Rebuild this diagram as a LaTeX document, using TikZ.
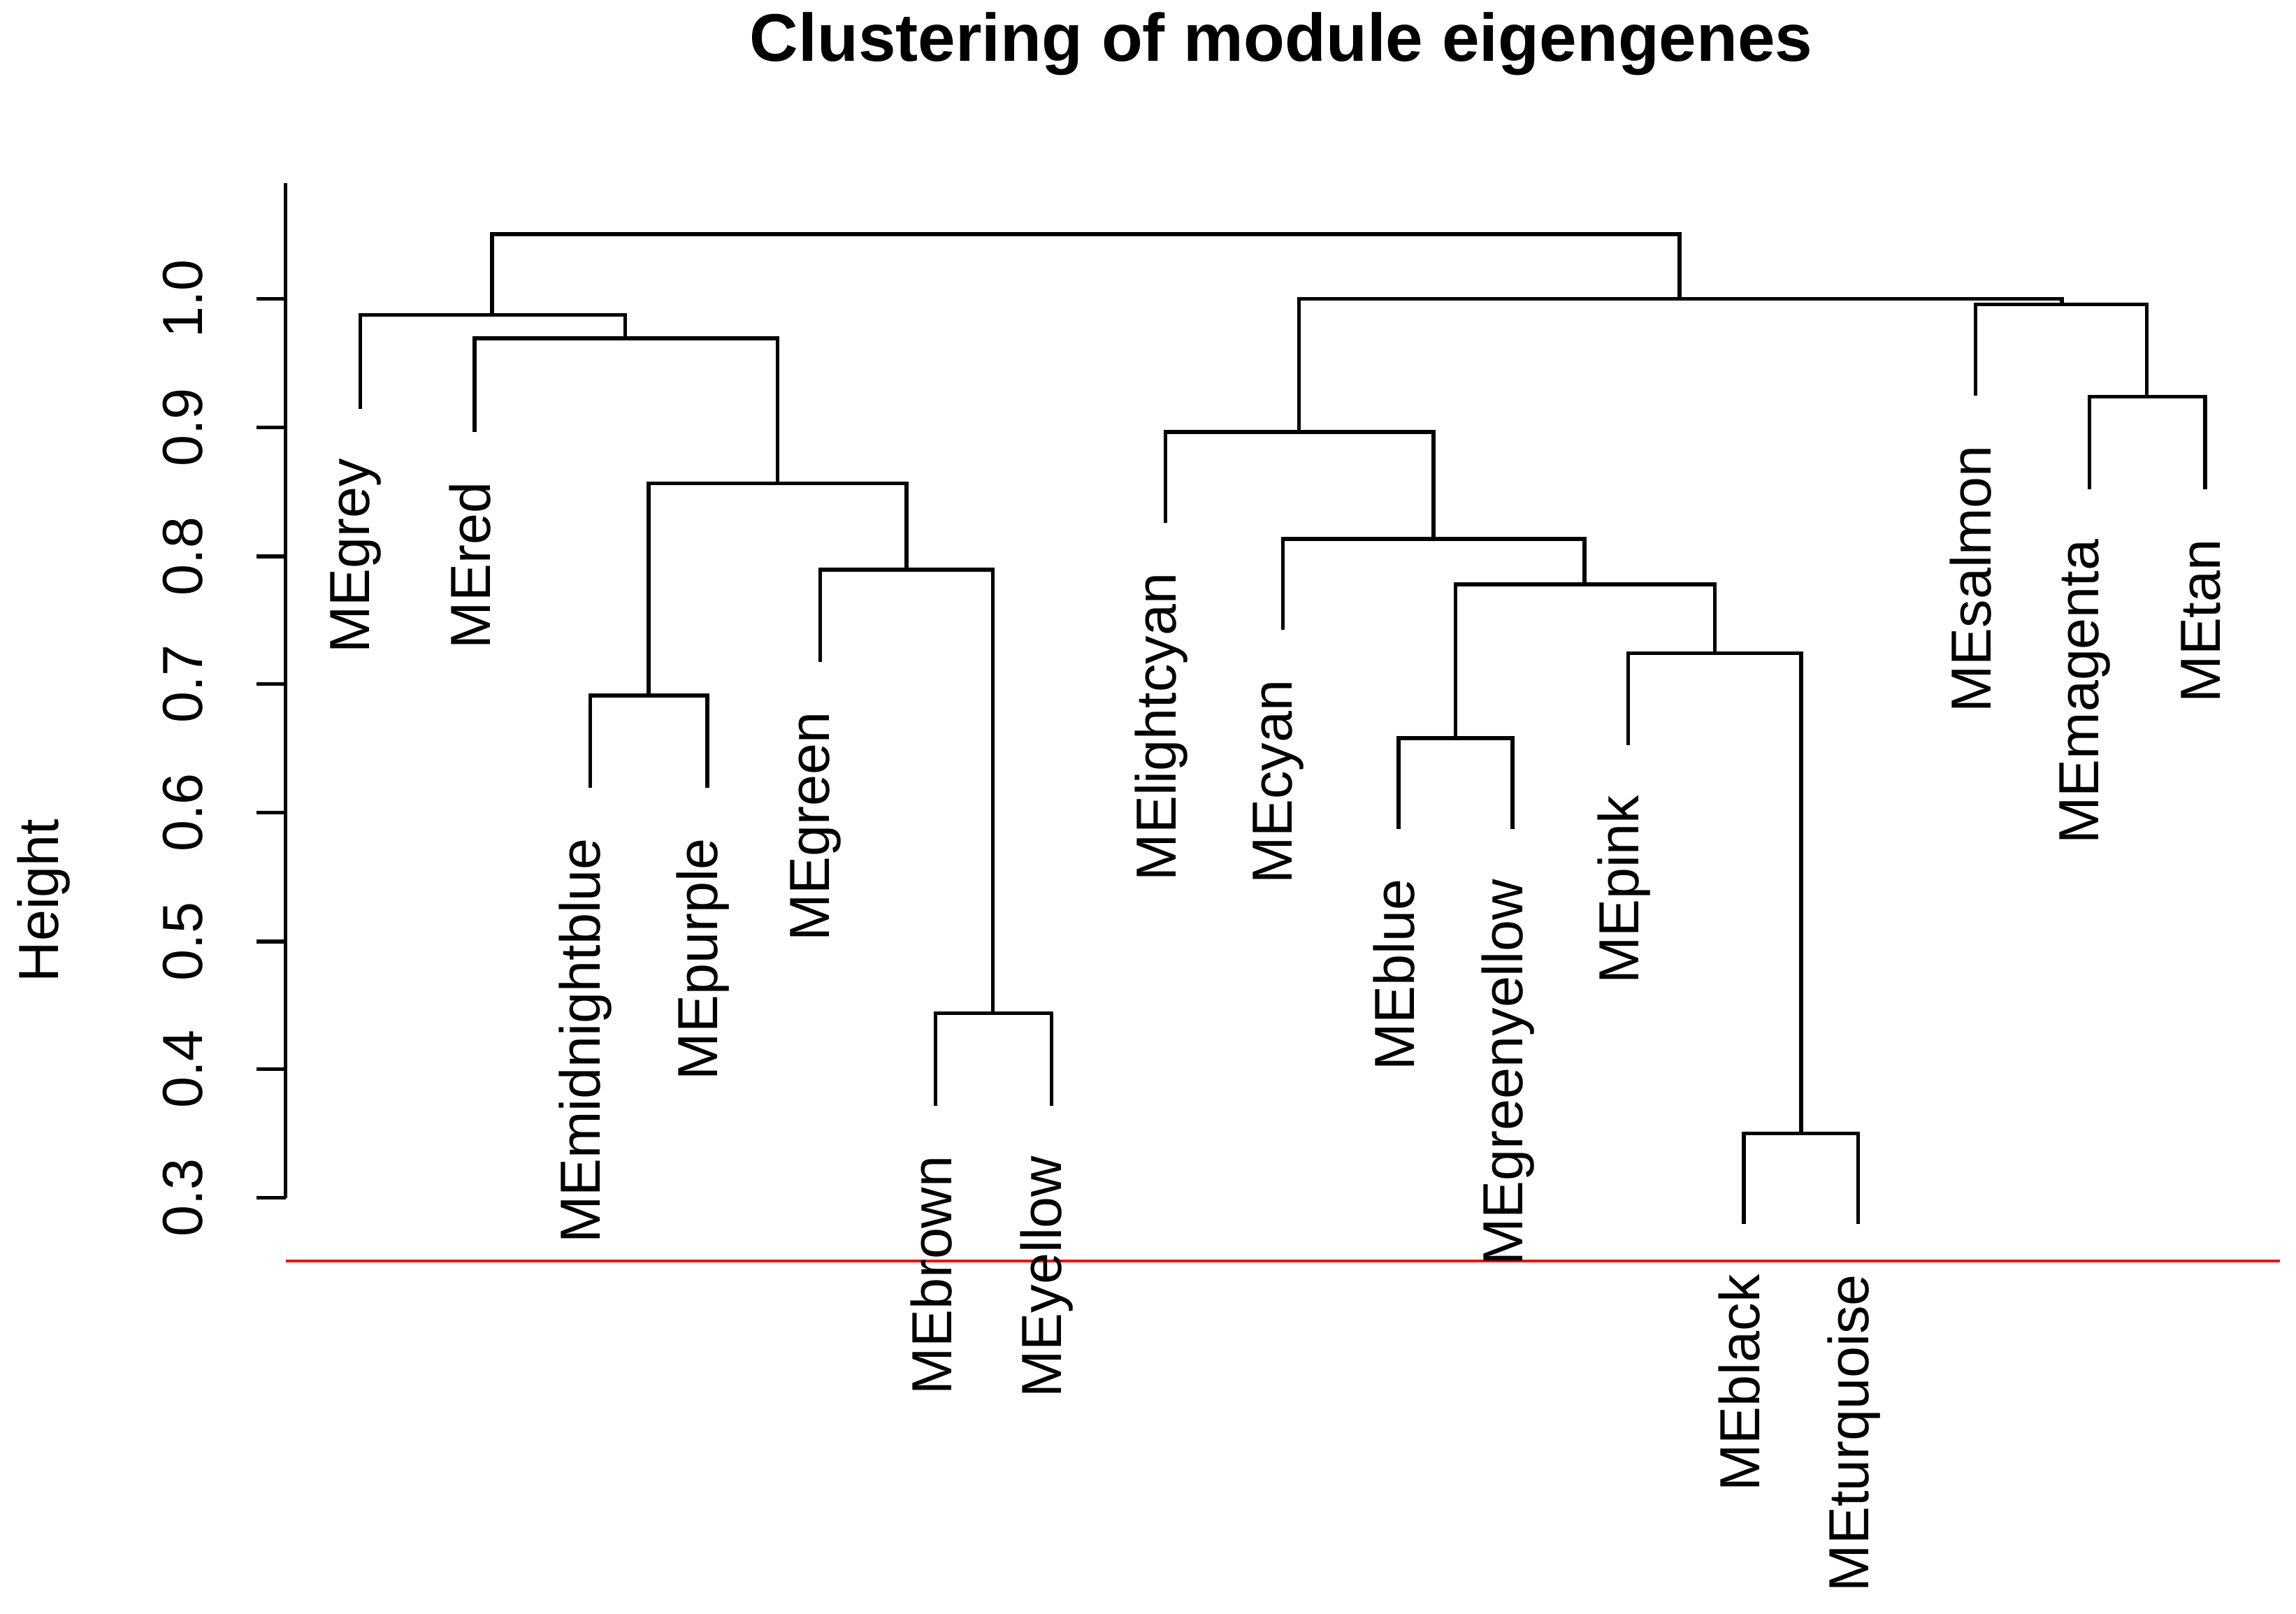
\documentclass[tikz,border=0pt]{standalone}
\usepackage{fontspec}
\setmainfont{Liberation Sans}
\begin{document}
\begin{tikzpicture}[x=1pt,y=-1pt,line width=2.6pt,
  lab/.style={rotate=90,anchor=east,inner sep=0pt,font=\fontsize{38.6}{40}\selectfont},
  tk/.style={rotate=90,inner sep=0pt,font=\fontsize{38.6}{40}\selectfont}]
\useasboundingbox (0,0) rectangle (1568,1102);
\node[font=\bfseries\fontsize{46}{48}\selectfont] (title) at (875,30) {Clustering of module eigengenes};
\node[tk] (ylab) at (30,615) {Height};
\draw (195,125) -- (195,818);
\foreach \v/\y in {0.3/818,0.4/730,0.5/643,0.6/555,0.7/467,0.8/380,0.9/292,1.0/204}{
  \draw (175,\y) -- (195,\y);
  \node[tk] at (125,\y) {\v};}
\draw[red,line width=2pt] (195,861) -- (1557,861);
% leaves: name/x/bottom
\foreach \n/\x/\b in {grey/246/279,red/324/295,midnightblue/403/538,purple/483/538,green/560/452,brown/639/755,yellow/718/755,lightcyan/796/357,cyan/876/430,blue/955/566,greenyellow/1033/566,pink/1112/509,black/1191/836,turquoise/1269/836,salmon/1349/270,magenta/1427/334,tan/1506/334}{
  \coordinate (\n) at (\x,\b);
  \node[lab] (l\n) at (\x-3,\b+33) {ME\n};}
\newcommand{\mrg}[5]{% leftx lefty rightx righty h
  \draw (#1,#2) -- (#1,#5) -- (#3,#5) -- (#3,#4);}
\mrg{639}{755}{718}{755}{692}
\mrg{560}{452}{678}{692}{389}
\mrg{403}{538}{483}{538}{475}
\mrg{443}{475}{619}{389}{330}
\mrg{324}{295}{531}{330}{231}
\mrg{246}{279}{427}{231}{215}
\mrg{1191}{836}{1269}{836}{774}
\mrg{1112}{509}{1230}{774}{446}
\mrg{955}{566}{1033}{566}{504}
\mrg{994}{504}{1171}{446}{399}
\mrg{876}{430}{1082}{399}{368}
\mrg{796}{357}{979}{368}{295}
\mrg{1427}{334}{1506}{334}{271}
\mrg{1349}{270}{1466}{271}{208}
\mrg{887}{295}{1408}{208}{204}
\mrg{336}{215}{1147}{204}{160}
\end{tikzpicture}
\end{document}
